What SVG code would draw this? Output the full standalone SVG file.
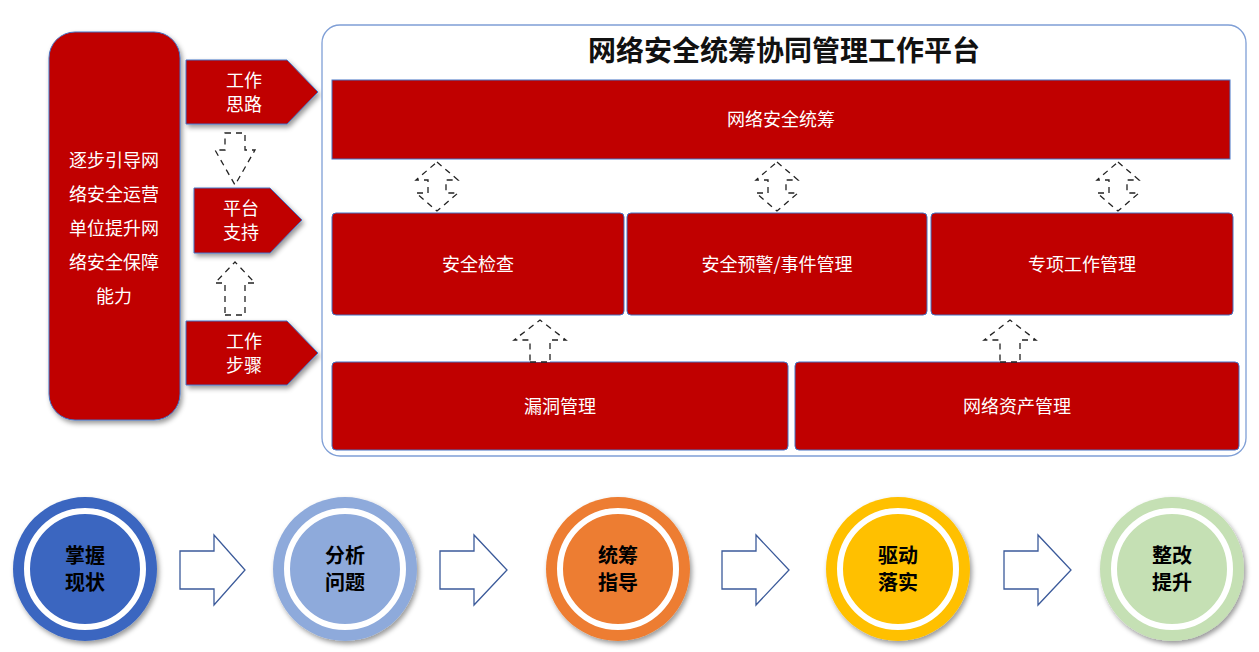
<svg xmlns="http://www.w3.org/2000/svg" width="1259" height="652" viewBox="0 0 1259 652">
<style>
.red{fill:#c00000;stroke:#4472c4;stroke-width:1}
.wt{fill:#fff;font-family:"Noto Sans CJK SC",sans-serif;font-size:18px;text-anchor:middle}
.ct{fill:#000;font-family:"Noto Sans CJK SC",sans-serif;font-size:20px;font-weight:bold;text-anchor:middle}
.dash{fill:#fff;stroke:#222;stroke-width:1.3;stroke-dasharray:6,5}
.blk{fill:#fff;stroke:#3b5a9a;stroke-width:1.3}
.ring{fill:none;stroke:#fff;stroke-width:6}
</style>
<defs>
<filter id="sh" x="-20%" y="-20%" width="140%" height="140%"><feDropShadow dx="2" dy="3" stdDeviation="2.5" flood-opacity="0.4"/></filter>
</defs>
<rect width="1259" height="652" fill="#fff"/>
<g id="left">
<rect class="red" x="49" y="32" width="131" height="388" rx="26" filter="url(#sh)"/>
<text class="wt" x="114" y="167">逐步引导网</text>
<text class="wt" x="114" y="201">络安全运营</text>
<text class="wt" x="114" y="235">单位提升网</text>
<text class="wt" x="114" y="269">络安全保障</text>
<text class="wt" x="114" y="303">能力</text>
</g>
<g id="p1"><polygon class="red" points="186,60 287,60 318,92 287,124 186,124" filter="url(#sh)"/><text class="wt" x="244" y="87">工作</text><text class="wt" x="244" y="111">思路</text></g>
<g id="p2"><polygon class="red" points="194,188 270,188 302,220 270,253 194,253" filter="url(#sh)"/><text class="wt" x="241" y="215">平台</text><text class="wt" x="241" y="239">支持</text></g>
<g id="p3"><polygon class="red" points="186,321 287,321 318,353 287,385 186,385" filter="url(#sh)"/><text class="wt" x="244" y="348">工作</text><text class="wt" x="244" y="372">步骤</text></g>
<g id="frame">
<rect x="322" y="25" width="924" height="431" rx="18" fill="#fff" stroke="#7f9fd6" stroke-width="1.3"/>
<text x="784" y="61" font-family="'Noto Sans CJK SC',sans-serif" font-size="28" font-weight="bold" text-anchor="middle" fill="#111">网络安全统筹协同管理工作平台</text>
</g>
<g id="n1"><rect class="red" x="332" y="80" width="898" height="79"/><text class="wt" x="781" y="126">网络安全统筹</text></g>
<g id="n2"><rect class="red" x="332" y="213" width="292" height="102" rx="4"/><text class="wt" x="478" y="271">安全检查</text></g>
<g id="n3"><rect class="red" x="627" y="213" width="300" height="102" rx="4"/><text class="wt" x="777" y="271">安全预警/事件管理</text></g>
<g id="n4"><rect class="red" x="931" y="213" width="302" height="102" rx="4"/><text class="wt" x="1082" y="271">专项工作管理</text></g>
<g id="n5"><rect class="red" x="332" y="362" width="456" height="88" rx="4"/><text class="wt" x="560" y="413">漏洞管理</text></g>
<g id="n6"><rect class="red" x="795" y="362" width="444" height="88" rx="4"/><text class="wt" x="1017" y="413">网络资产管理</text></g>
<g id="connectors">
<polygon class="dash" points="225,133 245,133 245,150 255,150 235,185 215,150 225,150"/>
<polygon class="dash" points="225,315 245,315 245,283 255,283 235,262 215,283 225,283"/>
<polygon class="dash" points="437,162 458,180 446,180 446,193 458,193 437,211 416,193 428,193 428,180 416,180"/>
<polygon class="dash" points="777,162 798,180 786,180 786,193 798,193 777,211 756,193 768,193 768,180 756,180"/>
<polygon class="dash" points="1118,162 1139,180 1127,180 1127,193 1139,193 1118,211 1097,193 1109,193 1109,180 1097,180"/>
<polygon class="dash" points="530,362 550,362 550,340 566,340 540,320 514,340 530,340"/>
<polygon class="dash" points="1000,362 1020,362 1020,340 1036,340 1010,320 984,340 1000,340"/>
<polygon class="blk" points="180,551 214,551 214,535 245,570 214,605 214,589 180,589"/>
<polygon class="blk" points="440,551 474,551 474,535 507,570 474,605 474,589 440,589"/>
<polygon class="blk" points="722,551 756,551 756,535 789,570 756,605 756,589 722,589"/>
<polygon class="blk" points="1004,551 1038,551 1038,535 1071,570 1038,605 1038,589 1004,589"/>
</g>
<g id="c1"><circle cx="85" cy="569" r="72" fill="#3a66c0" filter="url(#sh)"/><circle class="ring" cx="85" cy="569" r="58"/><text class="ct" x="85" y="563">掌握</text><text class="ct" x="85" y="590">现状</text></g>
<g id="c2"><circle cx="345" cy="569" r="72" fill="#8eaadb" filter="url(#sh)"/><circle class="ring" cx="345" cy="569" r="58"/><text class="ct" x="345" y="563">分析</text><text class="ct" x="345" y="590">问题</text></g>
<g id="c3"><circle cx="618" cy="569" r="72" fill="#ed7d31" filter="url(#sh)"/><circle class="ring" cx="618" cy="569" r="58"/><text class="ct" x="618" y="563">统筹</text><text class="ct" x="618" y="590">指导</text></g>
<g id="c4"><circle cx="898" cy="569" r="72" fill="#ffc000" filter="url(#sh)"/><circle class="ring" cx="898" cy="569" r="58"/><text class="ct" x="898" y="563">驱动</text><text class="ct" x="898" y="590">落实</text></g>
<g id="c5"><circle cx="1172" cy="569" r="72" fill="#c5e0b4" filter="url(#sh)"/><circle class="ring" cx="1172" cy="569" r="58"/><text class="ct" x="1172" y="563">整改</text><text class="ct" x="1172" y="590">提升</text></g>
</svg>
